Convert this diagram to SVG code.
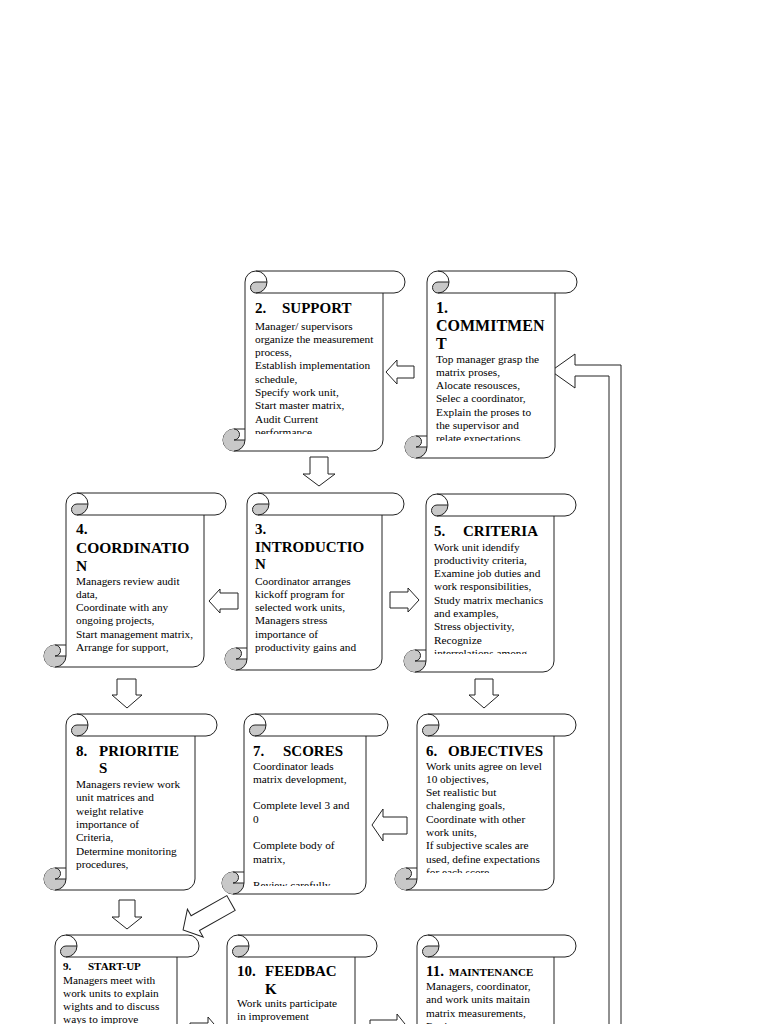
<svg xmlns="http://www.w3.org/2000/svg" width="768" height="1024" viewBox="0 0 768 1024">
<style>
.s{fill:#fff;stroke:#222;stroke-width:1}
.g{fill:#c8c8c8;stroke:none}
.l{fill:none;stroke:#222;stroke-width:1}
.a{fill:#fff;stroke:#222;stroke-width:1}
.h{font-family:"Liberation Serif","Times New Roman",serif;font-weight:bold;font-size:15px;fill:#000}
.h2{font-family:"Liberation Serif","Times New Roman",serif;font-weight:bold;font-size:16px;fill:#000}
.h3{font-family:"Liberation Serif","Times New Roman",serif;font-weight:bold;font-size:15.5px;fill:#000}
.hs{font-family:"Liberation Serif","Times New Roman",serif;font-weight:bold;font-size:11px;fill:#000}
.b{font-family:"Liberation Serif","Times New Roman",serif;font-size:11.3px;fill:#000}
</style>
<defs>
<clipPath id="c1"><rect x="427" y="271" width="128" height="170"/></clipPath>
<clipPath id="c2"><rect x="245" y="271" width="138" height="163"/></clipPath>
<clipPath id="c4"><rect x="66" y="493" width="138" height="160"/></clipPath>
<clipPath id="c5"><rect x="426" y="494" width="128" height="160"/></clipPath>
<clipPath id="c6"><rect x="417" y="714" width="137" height="159"/></clipPath>
<clipPath id="c7"><rect x="244" y="714" width="122" height="172"/></clipPath>
<clipPath id="c8"><rect x="66" y="714" width="129" height="163"/></clipPath>
</defs>
<rect width="768" height="1024" fill="#fff"/>

<g id="connectors">
<path class="a" d="M386,372 L397,360 L397,366 L414,366 L414,378 L397,378 L397,384 Z"/>
<path class="a" d="M310,457 L328,457 L328,474 L335,474 L319,486 L303,474 L310,474 Z"/>
<path class="a" d="M209,601 L220,589 L220,593 L238,593 L238,609 L220,609 L220,613 Z"/>
<path class="a" d="M390,592 L408,592 L408,588 L419,600 L408,612 L408,608 L390,608 Z"/>
<path class="a" d="M475,679 L493,679 L493,695 L499,695 L484,708 L469,695 L475,695 Z"/>
<path class="a" d="M117,679 L136,679 L136,695 L142,695 L127,708 L112,695 L117,695 Z"/>
<path class="a" d="M372,825 L383,809 L383,817 L407,817 L407,834 L383,834 L383,841 Z"/>
<path class="a" d="M119,900 L135,900 L135,917 L142,917 L127,929 L112,917 L119,917 Z"/>
<path class="a" transform="translate(231 903) rotate(150.6)" d="M0,-8.5 L41,-8.5 L41,-16 L55,0 L41,16 L41,8.5 L0,8.5 Z"/>
<path class="a" d="M190,1023 L208,1023 L208,1017 L220,1031 L208,1046 L208,1040 L190,1040 Z"/>
<path class="a" d="M370,1020 L397,1020 L397,1014 L409,1029 L397,1044 L397,1038 L370,1038 Z"/>
<path class="l" d="M621,1030 L621,365 L575,365 L575,354 L551,371 L575,388 L575,376 L609,376 L609,1030"/>
</g>

<g id="n1">
<path class="s" d="M427,436 L427,282 A11,11 0 0 1 438,271 L566,271 A11,11 0 0 1 566,293 L555,293 L555,447 A11,11 0 0 1 544,458 L416,458 A11,11 0 0 1 416,436 Z"/>
<path class="g" d="M449,282 A11,11 0 0 1 438,293 A5.5,5.5 0 0 1 438,282 Z M427,447 A11,11 0 1 1 416,436 A5.5,5.5 0 0 1 416,447 Z"/>
<path class="l" d="M438,271 A11,11 0 0 1 438,293 A5.5,5.5 0 0 1 438,282 L449,282 M555,293 L438,293 M416,436 A5.5,5.5 0 0 1 416,447 L427,447 M416,458 A11,11 0 0 0 427,447 L427,436"/>
<g clip-path="url(#c1)">
<text class="h2" x="436" y="313">1.</text>
<text class="h2" x="436" y="331">COMMITMEN</text>
<text class="h2" x="436" y="349">T</text>
<text class="b" x="436" y="362.5">Top manager grasp the</text>
<text class="b" x="436" y="375.8">matrix proses,</text>
<text class="b" x="436" y="389.1">Alocate resousces,</text>
<text class="b" x="436" y="402.4">Selec a coordinator,</text>
<text class="b" x="436" y="415.7">Explain the proses to</text>
<text class="b" x="436" y="429">the supervisor and</text>
<text class="b" x="436" y="442.3">relate expectations.</text>
</g>
</g>

<g id="n2">
<path class="s" d="M245,429 L245,282 A11,11 0 0 1 256,271 L394,271 A11,11 0 0 1 394,293 L383,293 L383,440 A11,11 0 0 1 372,451 L234,451 A11,11 0 0 1 234,429 Z"/>
<path class="g" d="M267,282 A11,11 0 0 1 256,293 A5.5,5.5 0 0 1 256,282 Z M245,440 A11,11 0 1 1 234,429 A5.5,5.5 0 0 1 234,440 Z"/>
<path class="l" d="M256,271 A11,11 0 0 1 256,293 A5.5,5.5 0 0 1 256,282 L267,282 M383,293 L256,293 M234,429 A5.5,5.5 0 0 1 234,440 L245,440 M234,451 A11,11 0 0 0 245,440 L245,429"/>
<g clip-path="url(#c2)">
<text class="h" x="255" y="313">2.</text>
<text class="h" x="282" y="313">SUPPORT</text>
<text class="b" x="255" y="329.5">Manager/ supervisors</text>
<text class="b" x="255" y="342.8">organize the measurement</text>
<text class="b" x="255" y="356.1">process,</text>
<text class="b" x="255" y="369.4">Establish implementation</text>
<text class="b" x="255" y="382.7">schedule,</text>
<text class="b" x="255" y="396">Specify work unit,</text>
<text class="b" x="255" y="409.3">Start master matrix,</text>
<text class="b" x="255" y="422.6">Audit Current</text>
<text class="b" x="255" y="435.9">performance.</text>
</g>
</g>

<g id="n3">
<path class="s" d="M247,648 L247,504 A11,11 0 0 1 258,493 L393,493 A11,11 0 0 1 393,515 L382,515 L382,659 A11,11 0 0 1 371,670 L236,670 A11,11 0 0 1 236,648 Z"/>
<path class="g" d="M269,504 A11,11 0 0 1 258,515 A5.5,5.5 0 0 1 258,504 Z M247,659 A11,11 0 1 1 236,648 A5.5,5.5 0 0 1 236,659 Z"/>
<path class="l" d="M258,493 A11,11 0 0 1 258,515 A5.5,5.5 0 0 1 258,504 L269,504 M382,515 L258,515 M236,648 A5.5,5.5 0 0 1 236,659 L247,659 M236,670 A11,11 0 0 0 247,659 L247,648"/>
<text class="h" x="255" y="533.5">3.</text>
<text class="h" x="255" y="551.5">INTRODUCTIO</text>
<text class="h" x="255" y="569">N</text>
<text class="b" x="255" y="584.5">Coordinator arranges</text>
<text class="b" x="255" y="597.8">kickoff program for</text>
<text class="b" x="255" y="611.1">selected work units,</text>
<text class="b" x="255" y="624.4">Managers stress</text>
<text class="b" x="255" y="637.7">importance of</text>
<text class="b" x="255" y="651">productivity gains and</text>
</g>

<g id="n4">
<path class="s" d="M66,645 L66,504 A11,11 0 0 1 77,493 L215,493 A11,11 0 0 1 215,515 L204,515 L204,656 A11,11 0 0 1 193,667 L55,667 A11,11 0 0 1 55,645 Z"/>
<path class="g" d="M88,504 A11,11 0 0 1 77,515 A5.5,5.5 0 0 1 77,504 Z M66,656 A11,11 0 1 1 55,645 A5.5,5.5 0 0 1 55,656 Z"/>
<path class="l" d="M77,493 A11,11 0 0 1 77,515 A5.5,5.5 0 0 1 77,504 L88,504 M204,515 L77,515 M55,645 A5.5,5.5 0 0 1 55,656 L66,656 M55,667 A11,11 0 0 0 66,656 L66,645"/>
<g clip-path="url(#c4)">
<text class="h3" x="76" y="534">4.</text>
<text class="h3" x="76" y="552.5">COORDINATIO</text>
<text class="h3" x="76" y="570.5">N</text>
<text class="b" x="76" y="584.5">Managers review audit</text>
<text class="b" x="76" y="597.8">data,</text>
<text class="b" x="76" y="611.1">Coordinate with any</text>
<text class="b" x="76" y="624.4">ongoing projects,</text>
<text class="b" x="76" y="637.7">Start management matrix,</text>
<text class="b" x="76" y="651">Arrange for support,</text>
</g>
</g>

<g id="n5">
<path class="s" d="M426,650 L426,505 A11,11 0 0 1 437,494 L565,494 A11,11 0 0 1 565,516 L554,516 L554,661 A11,11 0 0 1 543,672 L415,672 A11,11 0 0 1 415,650 Z"/>
<path class="g" d="M448,505 A11,11 0 0 1 437,516 A5.5,5.5 0 0 1 437,505 Z M426,661 A11,11 0 1 1 415,650 A5.5,5.5 0 0 1 415,661 Z"/>
<path class="l" d="M437,494 A11,11 0 0 1 437,516 A5.5,5.5 0 0 1 437,505 L448,505 M554,516 L437,516 M415,650 A5.5,5.5 0 0 1 415,661 L426,661 M415,672 A11,11 0 0 0 426,661 L426,650"/>
<g clip-path="url(#c5)">
<text class="h" x="434" y="535.5">5.</text>
<text class="h" x="463" y="535.5">CRITERIA</text>
<text class="b" x="434" y="550.5">Work unit idendify</text>
<text class="b" x="434" y="563.8">productivity criteria,</text>
<text class="b" x="434" y="577.1">Examine job duties and</text>
<text class="b" x="434" y="590.4">work responsibilities,</text>
<text class="b" x="434" y="603.7">Study matrix mechanics</text>
<text class="b" x="434" y="617">and examples,</text>
<text class="b" x="434" y="630.3">Stress objectivity,</text>
<text class="b" x="434" y="643.6">Recognize</text>
<text class="b" x="434" y="656.9">interrelations among</text>
</g>
</g>

<g id="n6">
<path class="s" d="M417,868 L417,725 A11,11 0 0 1 428,714 L565,714 A11,11 0 0 1 565,736 L554,736 L554,879 A11,11 0 0 1 543,890 L406,890 A11,11 0 0 1 406,868 Z"/>
<path class="g" d="M439,725 A11,11 0 0 1 428,736 A5.5,5.5 0 0 1 428,725 Z M417,879 A11,11 0 1 1 406,868 A5.5,5.5 0 0 1 406,879 Z"/>
<path class="l" d="M428,714 A11,11 0 0 1 428,736 A5.5,5.5 0 0 1 428,725 L439,725 M554,736 L428,736 M406,868 A5.5,5.5 0 0 1 406,879 L417,879 M406,890 A11,11 0 0 0 417,879 L417,868"/>
<g clip-path="url(#c6)">
<text class="h" x="426" y="756">6.</text>
<text class="h" x="448" y="756">OBJECTIVES</text>
<text class="b" x="426" y="769.5">Work units agree on level</text>
<text class="b" x="426" y="782.8">10 objectives,</text>
<text class="b" x="426" y="796.1">Set realistic but</text>
<text class="b" x="426" y="809.4">chalenging goals,</text>
<text class="b" x="426" y="822.7">Coordinate with other</text>
<text class="b" x="426" y="836">work units,</text>
<text class="b" x="426" y="849.3">If subjective scales are</text>
<text class="b" x="426" y="862.6">used, define expectations</text>
<text class="b" x="426" y="875.9">for each score.</text>
</g>
</g>

<g id="n7">
<path class="s" d="M244,872 L244,725 A11,11 0 0 1 255,714 L377,714 A11,11 0 0 1 377,736 L366,736 L366,883 A11,11 0 0 1 355,894 L233,894 A11,11 0 0 1 233,872 Z"/>
<path class="g" d="M266,725 A11,11 0 0 1 255,736 A5.5,5.5 0 0 1 255,725 Z M244,883 A11,11 0 1 1 233,872 A5.5,5.5 0 0 1 233,883 Z"/>
<path class="l" d="M255,714 A11,11 0 0 1 255,736 A5.5,5.5 0 0 1 255,725 L266,725 M366,736 L255,736 M233,872 A5.5,5.5 0 0 1 233,883 L244,883 M233,894 A11,11 0 0 0 244,883 L244,872"/>
<g clip-path="url(#c7)">
<text class="h" x="253" y="755.5">7.</text>
<text class="h" x="283" y="755.5">SCORES</text>
<text class="b" x="253" y="769.5">Coordinator leads</text>
<text class="b" x="253" y="782.8">matrix development,</text>
<text class="b" x="253" y="809.4">Complete level 3 and</text>
<text class="b" x="253" y="822.7">0</text>
<text class="b" x="253" y="849.3">Complete body of</text>
<text class="b" x="253" y="862.6">matrix,</text>
<text class="b" x="253" y="889.2">Review carefully</text>
</g>
</g>

<g id="n8">
<path class="s" d="M66,868 L66,725 A11,11 0 0 1 77,714 L206,714 A11,11 0 0 1 206,736 L195,736 L195,879 A11,11 0 0 1 184,890 L55,890 A11,11 0 0 1 55,868 Z"/>
<path class="g" d="M88,725 A11,11 0 0 1 77,736 A5.5,5.5 0 0 1 77,725 Z M66,879 A11,11 0 1 1 55,868 A5.5,5.5 0 0 1 55,879 Z"/>
<path class="l" d="M77,714 A11,11 0 0 1 77,736 A5.5,5.5 0 0 1 77,725 L88,725 M195,736 L77,736 M55,868 A5.5,5.5 0 0 1 55,879 L66,879 M55,890 A11,11 0 0 0 66,879 L66,868"/>
<g clip-path="url(#c8)">
<text class="h" x="76" y="756">8.</text>
<text class="h" x="99" y="756">PRIORITIE</text>
<text class="h" x="99" y="773">S</text>
<text class="b" x="76" y="788">Managers review work</text>
<text class="b" x="76" y="801.3">unit matrices and</text>
<text class="b" x="76" y="814.6">weight relative</text>
<text class="b" x="76" y="827.9">importance of</text>
<text class="b" x="76" y="841.2">Criteria,</text>
<text class="b" x="76" y="854.5">Determine monitoring</text>
<text class="b" x="76" y="867.8">procedures,</text>
</g>
</g>

<g id="n9">
<path class="s" d="M55,1040 L55,946 A11,11 0 0 1 66,935 L188,935 A11,11 0 0 1 188,957 L177,957 L177,1040 Z"/>
<path class="g" d="M77,946 A11,11 0 0 1 66,957 A5.5,5.5 0 0 1 66,946 Z"/>
<path class="l" d="M66,935 A11,11 0 0 1 66,957 A5.5,5.5 0 0 1 66,946 L77,946 M177,957 L66,957"/>
<text class="hs" x="63" y="970">9.</text>
<text class="hs" x="88" y="970">START-UP</text>
<text class="b" x="63" y="983.5">Managers meet with</text>
<text class="b" x="63" y="996.8">work units to explain</text>
<text class="b" x="63" y="1010.1">wights and to discuss</text>
<text class="b" x="63" y="1023.4">ways to improve</text>
</g>

<g id="n10">
<path class="s" d="M227,1040 L227,946 A11,11 0 0 1 238,935 L366,935 A11,11 0 0 1 366,957 L355,957 L355,1040 Z"/>
<path class="g" d="M249,946 A11,11 0 0 1 238,957 A5.5,5.5 0 0 1 238,946 Z"/>
<path class="l" d="M238,935 A11,11 0 0 1 238,957 A5.5,5.5 0 0 1 238,946 L249,946 M355,957 L238,957"/>
<text class="h" x="237" y="976">10.</text>
<text class="h" x="265" y="976">FEEDBAC</text>
<text class="h" x="265" y="993.5">K</text>
<text class="b" x="237" y="1006.5">Work units participate</text>
<text class="b" x="237" y="1019.8">in improvement</text>
</g>

<g id="n11">
<path class="s" d="M417,1040 L417,946 A11,11 0 0 1 428,935 L565,935 A11,11 0 0 1 565,957 L554,957 L554,1040 Z"/>
<path class="g" d="M439,946 A11,11 0 0 1 428,957 A5.5,5.5 0 0 1 428,946 Z"/>
<path class="l" d="M428,935 A11,11 0 0 1 428,957 A5.5,5.5 0 0 1 428,946 L439,946 M554,957 L428,957"/>
<text class="h" x="426" y="975.5">11.</text>
<text class="hs" x="449" y="975.5">MAINTENANCE</text>
<text class="b" x="426" y="990">Managers, coordinator,</text>
<text class="b" x="426" y="1003.3">and work units maitain</text>
<text class="b" x="426" y="1016.6">matrix measurements,</text>
<text class="b" x="426" y="1029.9">Review</text>
</g>
</svg>
